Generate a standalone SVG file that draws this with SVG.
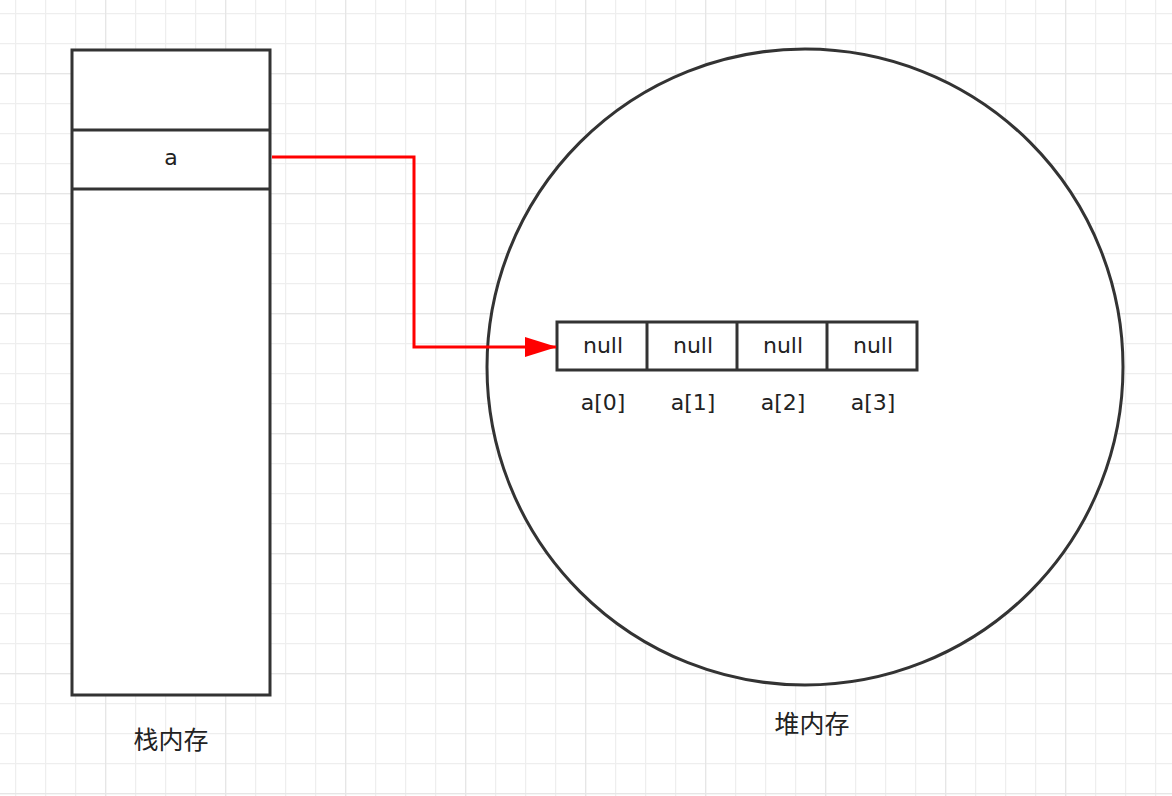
<svg xmlns="http://www.w3.org/2000/svg" width="1172" height="796" viewBox="0 0 1172 796">
  <defs>
    <pattern id="minor" x="15" y="13" width="30" height="30" patternUnits="userSpaceOnUse">
      <path d="M0.5 0V30M0 0.5H30" fill="none" stroke="#eeeeee" stroke-width="1.5"/>
    </pattern>
    <pattern id="major" x="105" y="73" width="120" height="120" patternUnits="userSpaceOnUse">
      <path d="M0.5 0V120M0 0.5H120" fill="none" stroke="#e6e6e6" stroke-width="1.5"/>
    </pattern>
    <marker id="arrow" markerWidth="32" markerHeight="20" refX="31" refY="10" markerUnits="userSpaceOnUse" orient="auto">
      <path d="M0 0L32 10L0 20Z" fill="#ff0000"/>
    </marker>
    <style>
      .box{fill:#ffffff;stroke:#333333;stroke-width:3}
      .ln{fill:none;stroke:#333333;stroke-width:3}
      .t{font-family:"DejaVu Sans","Liberation Sans",sans-serif;font-size:22px;fill:#222222;text-anchor:middle;dominant-baseline:central}
      .cn{font-family:"Noto Sans CJK SC","Liberation Sans",sans-serif;font-size:25px;fill:#222222;text-anchor:middle;dominant-baseline:central}
    </style>
  </defs>
  <rect width="1172" height="796" fill="#ffffff"/>
  <rect width="1172" height="796" fill="url(#minor)"/>
  <rect width="1172" height="796" fill="url(#major)"/>

  <g id="stack">
    <rect class="box" x="72" y="50" width="198" height="645"/>
    <line class="ln" x1="72" y1="130" x2="270" y2="130"/>
    <line class="ln" x1="72" y1="189" x2="270" y2="189"/>
    <text class="t" x="171" y="157">a</text>
    <text class="cn" x="171" y="738">栈内存</text>
  </g>

  <g id="heap">
    <circle cx="805" cy="367" r="318" fill="#ffffff" stroke="#333333" stroke-width="3"/>
    <text class="cn" x="812" y="722">堆内存</text>
  </g>

  <g id="array">
    <rect class="box" x="557" y="322" width="360" height="48"/>
    <line class="ln" x1="647" y1="322" x2="647" y2="370"/>
    <line class="ln" x1="737" y1="322" x2="737" y2="370"/>
    <line class="ln" x1="827" y1="322" x2="827" y2="370"/>
    <text class="t" x="603" y="345">null</text>
    <text class="t" x="693" y="345">null</text>
    <text class="t" x="783" y="345">null</text>
    <text class="t" x="873" y="345">null</text>
    <text class="t" x="603" y="402">a[0]</text>
    <text class="t" x="693" y="402">a[1]</text>
    <text class="t" x="783" y="402">a[2]</text>
    <text class="t" x="873" y="402">a[3]</text>
  </g>

  <g id="connectors">
    <polyline points="272,157 414,157 414,347 556,347" fill="none" stroke="#ff0000" stroke-width="3" marker-end="url(#arrow)"/>
  </g>
</svg>
